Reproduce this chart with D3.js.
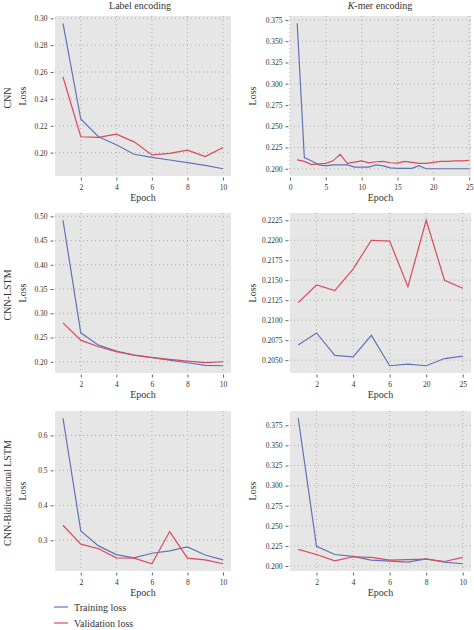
<!DOCTYPE html>
<html>
<head>
<meta charset="utf-8">
<script src="https://cdn.jsdelivr.net/npm/d3@7"></script>
<style>
  body { margin: 0; background: #fff; }
  text { font-family: "Liberation Serif", "DejaVu Serif", serif; fill: #333; }
</style>
</head>
<body>
<div id="chart"></div>
<script>
// epochs and ticks
var epochs10 = [1, 2, 3, 4, 5, 6, 7, 8, 9, 10];
var epochs25 = [1, 2, 3, 4, 5, 6, 7, 8, 9, 10, 11, 12, 13, 14, 15, 16, 17, 18, 19, 20, 21, 22, 23, 24, 25];
var ticks10 = [2, 4, 6, 8, 10];
var ticks25 = [0, 5, 10, 15, 20, 25];
var lstmKmerTickLabels = ["2", "4", "6", "20", "25"];

// CNN
var cnnLabelTrain = [0.2963, 0.2250, 0.2118, 0.2058, 0.1988, 0.1965, 0.1945, 0.1925, 0.1905, 0.1880];
var cnnLabelVal = [0.2563, 0.2118, 0.2113, 0.2138, 0.2080, 0.1983, 0.1995, 0.2018, 0.1970, 0.2038];
var cnnKmerTrain = [0.3711, 0.2131, 0.2090, 0.2045, 0.2034, 0.2045, 0.2045, 0.2045, 0.2019, 0.2019, 0.2019, 0.2045, 0.2034,
                    0.2011, 0.2004, 0.2004, 0.2004, 0.2037, 0.2000, 0.2000, 0.2000, 0.2000, 0.2000, 0.2000, 0.2000];
var cnnKmerVal = [0.2104, 0.2086, 0.2049, 0.2056, 0.2063, 0.2093, 0.2170, 0.2063, 0.2078, 0.2093, 0.2070, 0.2082, 0.2086,
                  0.2070, 0.2067, 0.2086, 0.2075, 0.2063, 0.2063, 0.2075, 0.2086, 0.2086, 0.2093, 0.2093, 0.2100];

// CNN-LSTM
var lstmLabelTrain = [0.4918, 0.2597, 0.2343, 0.2220, 0.2137, 0.2082, 0.2034, 0.1980, 0.1924, 0.1918];
var lstmLabelVal = [0.2803, 0.2446, 0.2309, 0.2206, 0.2137, 0.2089, 0.2048, 0.2014, 0.1980, 0.2000];
var lstmKmerTrain = [0.2069, 0.2084, 0.2056, 0.2054, 0.2081, 0.2043, 0.2045, 0.2043, 0.2052, 0.2055];
var lstmKmerVal = [0.2122, 0.2144, 0.2137, 0.2164, 0.2200, 0.2199, 0.2142, 0.2225, 0.2150, 0.2140];

// CNN-Bidirectional LSTM
var bilstmLabelTrain = [0.649, 0.327, 0.284, 0.259, 0.250, 0.263, 0.270, 0.281, 0.258, 0.244];
var bilstmLabelVal = [0.343, 0.289, 0.276, 0.250, 0.249, 0.233, 0.325, 0.249, 0.244, 0.233];
var bilstmKmerTrain = [0.3837, 0.2245, 0.2143, 0.2120, 0.2072, 0.2060, 0.2048, 0.2088, 0.2048, 0.2028];
var bilstmKmerVal = [0.2207, 0.2143, 0.2064, 0.2115, 0.2107, 0.2072, 0.2080, 0.2084, 0.2056, 0.2107];

var rowNames = ["CNN", "CNN-LSTM", "CNN-Bidirectional LSTM"];
var seriesNames = ["Training loss", "Validation loss"];

var trainColor = "#6272b6";
var valColor = "#d94a5c";

var svg = d3.select("#chart").append("svg")
    .attr("width", 474)
    .attr("height", 630);

var cols = [{ x0: 55, x1: 231 }, { x0: 290, x1: 471 }];
var rowTops = [16, 213, 411];
var panelH = 160;

var panels = [
  { row: 0, col: 0, x: epochs10, train: cnnLabelTrain, val: cnnLabelVal, xt: ticks10, yt: d3.range(0.20, 0.3001, 0.02), fmt: ".2f" },
  { row: 0, col: 1, x: epochs25, train: cnnKmerTrain, val: cnnKmerVal, xt: ticks25, yt: d3.range(0.200, 0.3751, 0.025), fmt: ".3f", xdom: [0, 25.25] },
  { row: 1, col: 0, x: epochs10, train: lstmLabelTrain, val: lstmLabelVal, xt: ticks10, yt: d3.range(0.20, 0.5001, 0.05), fmt: ".2f" },
  { row: 1, col: 1, x: epochs10, train: lstmKmerTrain, val: lstmKmerVal, xt: ticks10, xl: lstmKmerTickLabels, yt: d3.range(0.2050, 0.22251, 0.0025), fmt: ".4f" },
  { row: 2, col: 0, x: epochs10, train: bilstmLabelTrain, val: bilstmLabelVal, xt: ticks10, yt: [0.3, 0.4, 0.5, 0.6], fmt: ".1f" },
  { row: 2, col: 1, x: epochs10, train: bilstmKmerTrain, val: bilstmKmerVal, xt: ticks10, yt: d3.range(0.200, 0.3751, 0.025), fmt: ".3f" }
];

function expand(ext) {
  var pad = (ext[1] - ext[0]) * 0.05;
  return [ext[0] - pad, ext[1] + pad];
}

panels.forEach(function(p) {
  var c = cols[p.col];
  var top = rowTops[p.row];
  var bottom = top + panelH;

  var x = d3.scaleLinear()
      .domain(p.xdom || expand(d3.extent(p.x)))
      .range([c.x0, c.x1]);
  var y = d3.scaleLinear()
      .domain(expand(d3.extent(p.train.concat(p.val))))
      .range([bottom, top]);

  var g = svg.append("g");

  // grey panel
  g.append("rect")
      .attr("x", c.x0).attr("y", top)
      .attr("width", c.x1 - c.x0).attr("height", panelH)
      .attr("fill", "#e6e6e6");

  // dotted grid
  g.selectAll(".gx").data(p.xt).enter().append("line")
      .attr("x1", function(d) { return x(d); }).attr("x2", function(d) { return x(d); })
      .attr("y1", top).attr("y2", bottom)
      .attr("stroke", "#b0b0b0").attr("stroke-dasharray", "1,3");
  g.selectAll(".gy").data(p.yt).enter().append("line")
      .attr("x1", c.x0).attr("x2", c.x1)
      .attr("y1", function(d) { return y(d); }).attr("y2", function(d) { return y(d); })
      .attr("stroke", "#b0b0b0").attr("stroke-dasharray", "1,3");

  // axes
  var xAxis = d3.axisBottom(x).tickValues(p.xt).tickSize(3).tickPadding(4);
  if (p.xl) xAxis.tickFormat(function(d, i) { return p.xl[i]; });
  var ax = g.append("g")
      .attr("transform", "translate(0," + (bottom + 1.5) + ")")
      .call(xAxis);
  var ay = g.append("g")
      .attr("transform", "translate(" + (c.x0 - 1.5) + ",0)")
      .call(d3.axisLeft(y).tickValues(p.yt).tickSize(3).tickPadding(3).tickFormat(d3.format(p.fmt)));
  [ax, ay].forEach(function(a) {
    a.select(".domain").remove();
    a.selectAll("line").attr("stroke", "#666");
    a.selectAll("text").attr("font-size", 7.5).attr("font-family", "Liberation Serif").attr("fill", "#444");
  });

  // lines
  var line = d3.line()
      .x(function(d, i) { return x(p.x[i]); })
      .y(function(d) { return y(d); });
  g.append("path").datum(p.train)
      .attr("d", line).attr("fill", "none")
      .attr("stroke", trainColor).attr("stroke-width", 1.2);
  g.append("path").datum(p.val)
      .attr("d", line).attr("fill", "none")
      .attr("stroke", valColor).attr("stroke-width", 1.2);

  // axis titles
  g.append("text")
      .attr("x", (c.x0 + c.x1) / 2).attr("y", bottom + 25)
      .attr("text-anchor", "middle").attr("font-size", 10)
      .text("Epoch");
  var lossX = p.col === 0 ? 22 : 252;
  g.append("text")
      .attr("transform", "translate(" + lossX + "," + (top + panelH / 2) + ") rotate(-90)")
      .attr("text-anchor", "middle").attr("dy", "0.35em").attr("font-size", 10)
      .text("Loss");
});

// row labels
rowNames.forEach(function(n, i) {
  svg.append("text")
      .attr("transform", "translate(7," + (rowTops[i] + panelH / 2 + 2) + ") rotate(-90)")
      .attr("text-anchor", "middle").attr("dy", "0.35em").attr("font-size", 10)
      .text(n);
});

// column titles
svg.append("text")
    .attr("x", 140).attr("y", 9)
    .attr("text-anchor", "middle").attr("font-size", 10)
    .text("Label encoding");
var kt = svg.append("text")
    .attr("x", 380).attr("y", 9)
    .attr("text-anchor", "middle").attr("font-size", 10);
kt.append("tspan").attr("font-style", "italic").text("K");
kt.append("tspan").text("-mer encoding");

// legend
var legend = svg.append("g");
seriesNames.forEach(function(n, i) {
  var ly = 607 + i * 16;
  legend.append("line")
      .attr("x1", 54).attr("x2", 68).attr("y1", ly).attr("y2", ly)
      .attr("stroke", i === 0 ? trainColor : valColor).attr("stroke-width", 1.2);
  legend.append("text")
      .attr("x", 74).attr("y", ly).attr("dy", "0.35em").attr("font-size", 10)
      .text(n);
});
</script>
</body>
</html>
